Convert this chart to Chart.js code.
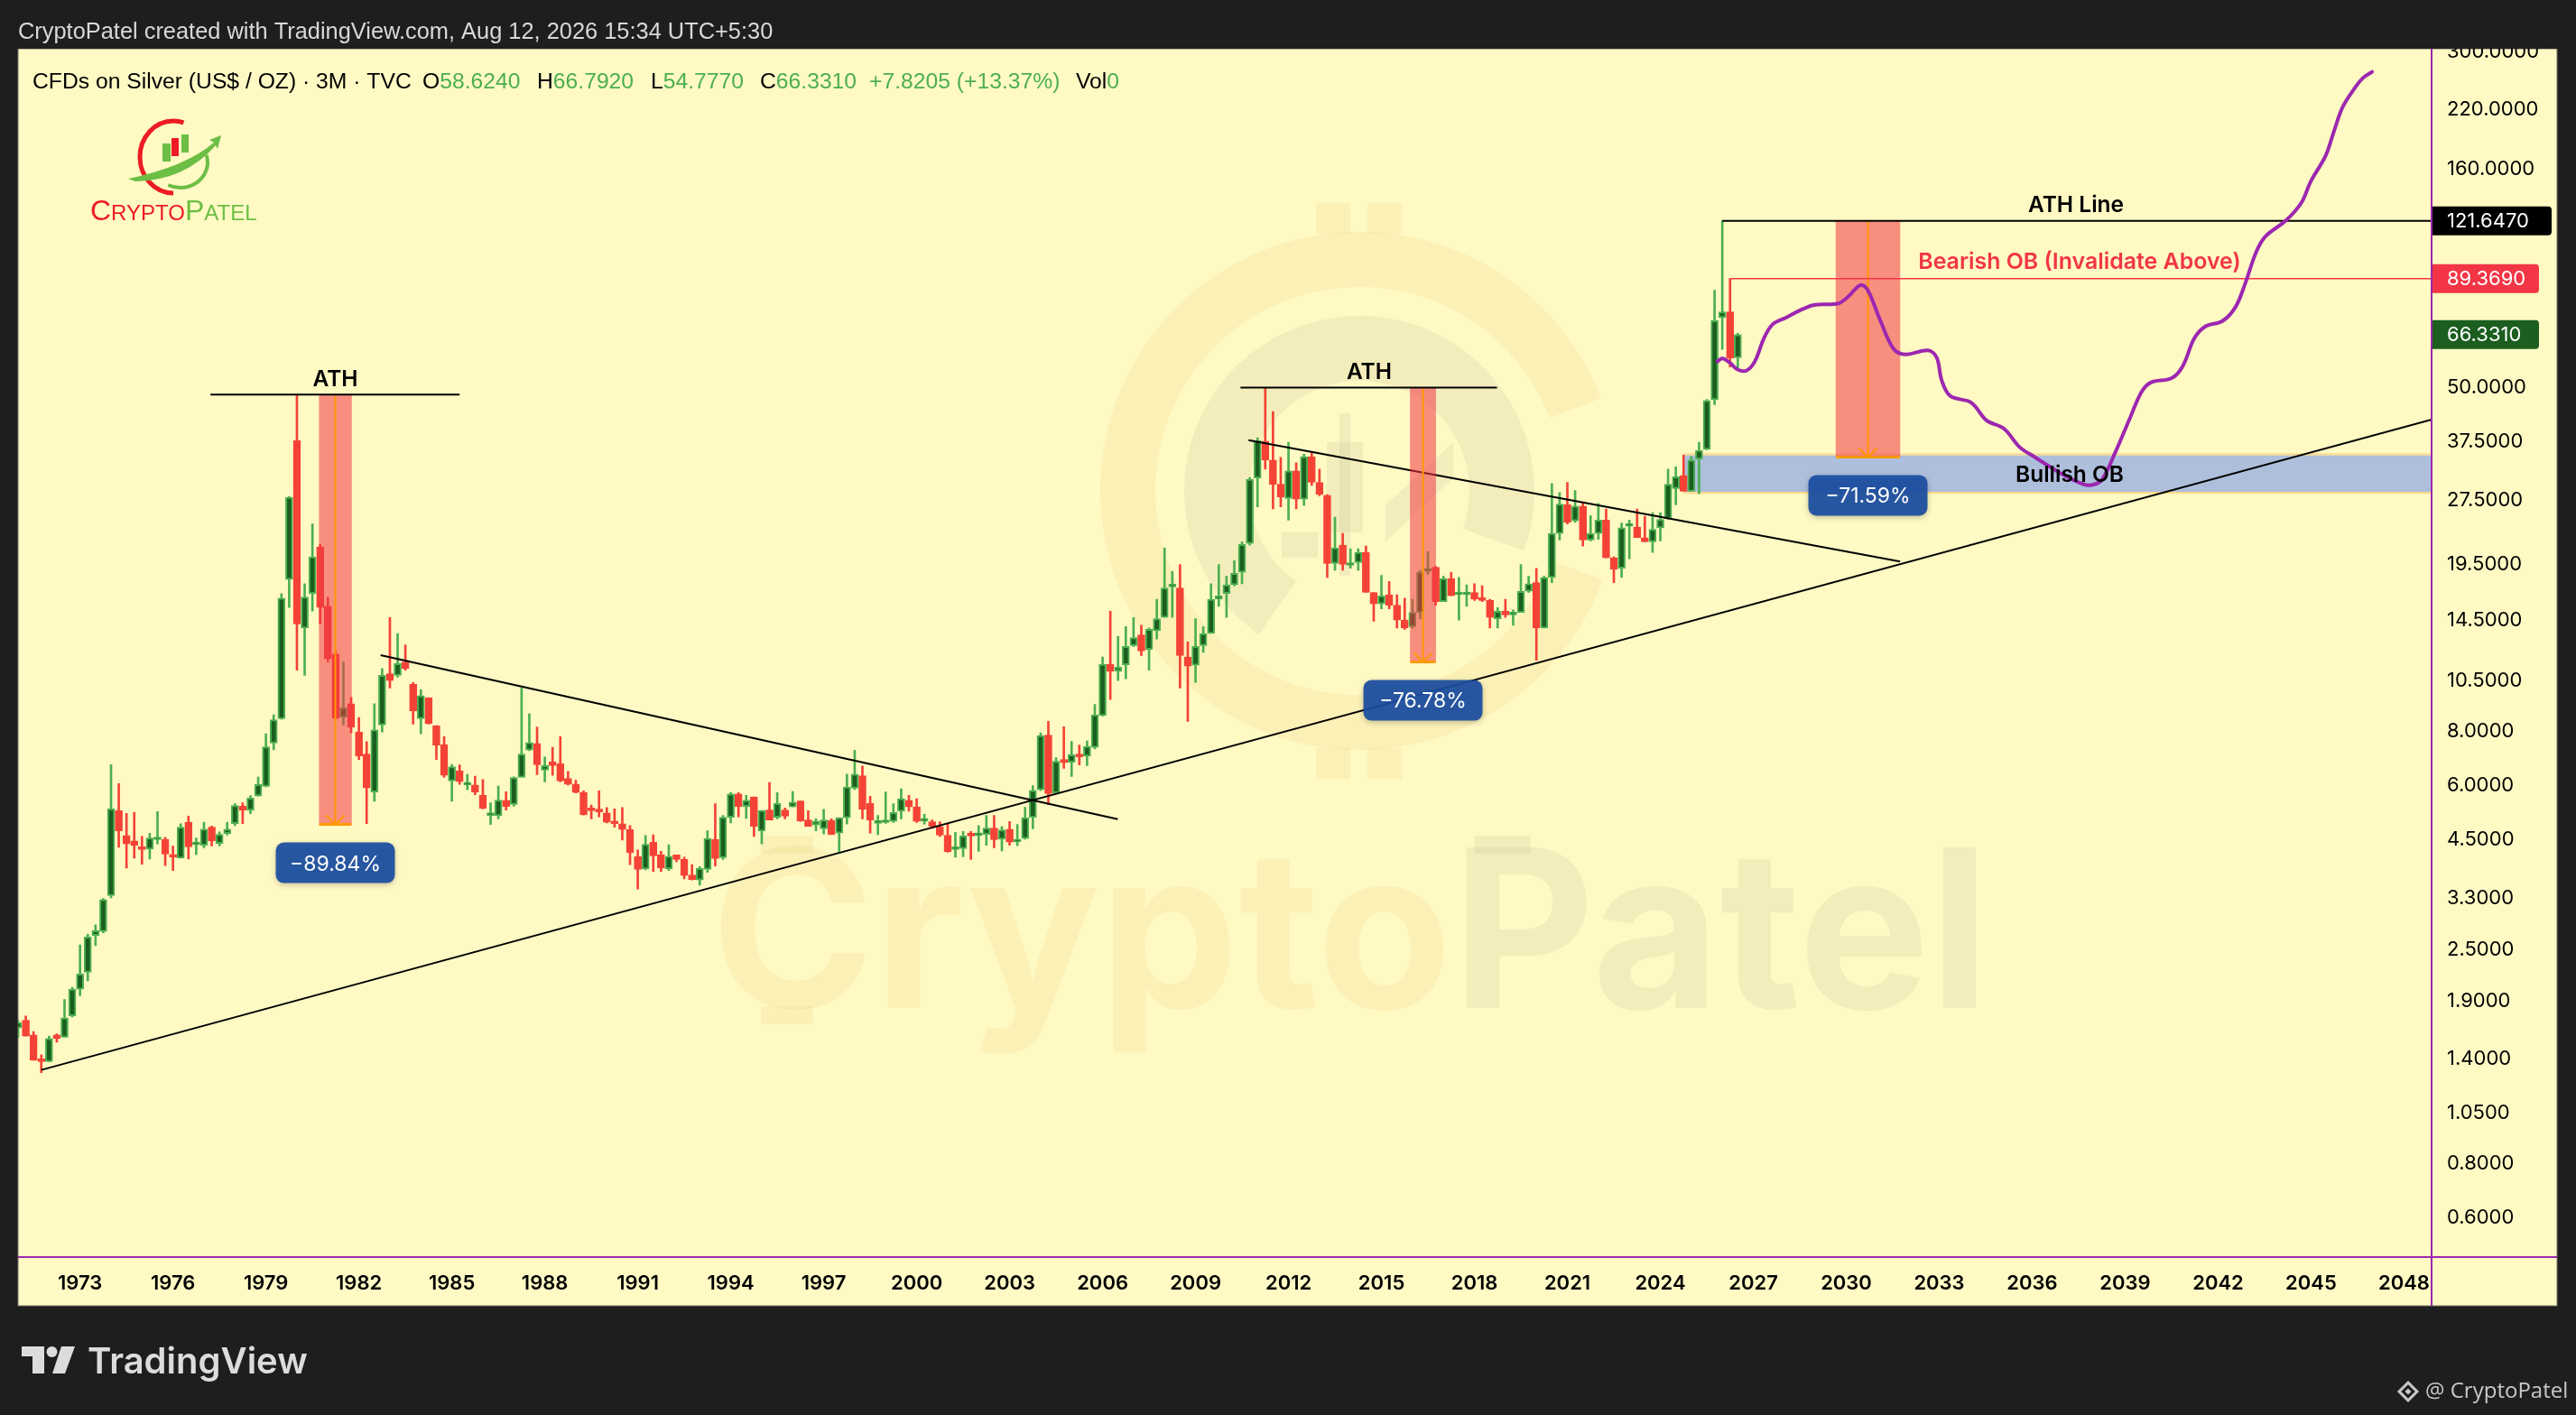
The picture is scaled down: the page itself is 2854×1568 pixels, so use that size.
<!DOCTYPE html>
<html>
<head>
<meta charset="utf-8">
<title>CFDs on Silver 3M</title>
<script src="https://cdn.jsdelivr.net/npm/chart.js@4/dist/chart.umd.min.js"></script>
<style>
  html, body { margin: 0; padding: 0; background: #1e1e1e; }
  canvas { display: block; }
</style>
</head>
<body>
<canvas id="silverChart" width="2854" height="1568"></canvas>
<script>
// quarterly candles, first one is Q1 1971
const firstYear = 1971;

const opens = [
  1.65,1.72,1.59,1.39,1.38,1.59,1.57,1.76,2.03,2.22,
  2.70,2.76,3.34,5.25,4.60,4.47,4.28,4.28,4.50,4.51,
  4.16,4.08,4.94,4.38,4.37,4.81,4.41,4.65,4.90,5.38,
  5.26,5.68,5.98,7.53,8.57,18.0,37.7,13.9,16.7,21.4,
  15.6,12.1,8.63,9.28,7.99,7.10,5.80,8.29,10.9,10.8,
  11.6,10.3,8.57,9.59,8.26,7.47,6.15,6.50,6.02,6.02,
  5.70,5.12,5.11,5.55,5.43,6.27,7.25,7.51,6.52,6.81,
  6.74,6.24,6.05,5.79,5.27,5.26,5.19,4.95,4.90,4.75,
  4.11,3.85,4.44,4.15,3.85,4.15,4.05,3.73,3.63,3.84,
  4.51,4.09,5.07,5.74,5.37,5.65,4.71,5.27,5.07,5.27,
  5.36,5.53,5.00,4.87,4.77,4.98,4.66,5.06,5.92,6.33,
  5.46,4.91,4.93,4.96,5.24,5.55,5.36,4.97,4.95,4.83,
  4.61,4.27,4.29,4.61,4.60,4.63,4.79,4.51,4.76,4.45,
  4.53,5.07,5.87,7.86,5.77,6.90,6.80,7.08,7.02,7.36,
  8.72,11.46,11.05,11.42,12.65,13.4,12.4,13.7,14.7,17.3,
  17.2,11.9,11.4,12.65,13.5,16.2,16.7,17.5,18.7,21.8,
  30.9,37.6,34.0,29.9,27.7,32.1,27.6,34.6,30.2,28.2,
  19.6,21.6,19.4,19.7,20.8,16.8,15.8,16.6,15.7,14.5,
  14.0,15.1,18.8,19.2,16.0,18.1,16.6,16.6,16.8,16.3,
  16.1,14.6,15.2,14.9,15.1,16.9,17.7,13.9,18.2,23.0,
  26.8,24.6,26.6,22.2,23.0,24.7,20.2,19.1,23.9,23.8,
  22.5,22.0,23.7,24.9,29.2,31.3,28.8,34.2,36.0,46.9,
  72.6,74.9,58.624
];
const highs = [
  1.72,1.76,1.62,1.43,1.58,1.60,1.92,2.05,2.57,2.72,
  2.86,3.29,6.71,6.07,5.18,5.21,4.58,4.66,5.23,4.56,
  4.35,4.90,5.10,4.54,4.94,4.84,4.69,4.94,5.45,5.48,
  5.69,6.28,7.91,8.75,16.7,28.0,48.2,17.6,24.2,21.7,
  16.4,12.3,11.6,9.60,8.63,7.59,9.28,11.2,14.7,13.5,
  12.7,10.4,10.0,9.59,8.26,7.79,6.72,6.70,6.37,6.31,
  6.20,5.48,5.99,5.81,6.29,10.1,8.81,8.20,6.99,7.36,
  7.79,6.47,6.18,5.84,5.41,5.84,5.34,5.30,5.34,4.85,
  4.26,4.60,4.62,4.23,4.38,4.15,4.10,3.94,3.90,4.72,
  5.45,5.12,5.78,5.78,5.70,5.65,5.26,6.10,5.78,5.33,
  5.82,5.53,5.25,5.03,5.29,5.03,5.06,6.38,7.25,6.66,
  5.67,5.12,5.80,5.45,5.90,5.70,5.60,5.15,5.00,4.95,
  4.90,4.68,4.70,4.70,4.85,5.12,5.12,4.83,4.96,4.88,
  5.35,6.00,7.95,8.45,6.97,8.21,7.60,7.45,7.61,9.25,
  11.9,15.2,13.3,14.0,14.7,14.1,13.9,16.2,21.3,18.8,
  19.5,12.9,14.6,14.0,17.6,19.5,18.3,19.9,22.0,31.0,
  38.3,50.0,44.0,34.5,37.4,33.5,35.1,35.4,32.4,28.3,
  25.1,23.0,21.2,21.2,21.5,16.8,18.4,17.8,16.6,16.3,
  16.2,18.9,20.9,19.3,18.3,18.7,18.2,17.5,17.6,17.4,
  16.2,15.5,16.2,15.3,19.5,18.3,19.1,18.3,30.0,28.6,
  30.2,28.9,27.2,25.3,27.0,26.2,20.3,24.3,24.7,26.2,
  25.2,25.7,25.7,32.4,32.8,34.9,34.6,37.4,47.0,84.0,
  121.647,89.369,66.792
];
const lows = [
  1.57,1.58,1.39,1.30,1.38,1.53,1.57,1.75,1.96,2.12,
  2.56,2.74,3.30,4.32,3.87,4.08,3.95,4.06,4.40,3.92,
  3.82,4.08,4.06,4.16,4.31,4.35,4.35,4.61,4.85,4.90,
  5.17,5.67,5.96,7.26,8.55,15.5,11.1,10.8,15.2,14.2,
  11.6,8.55,8.29,7.95,6.90,4.90,5.52,7.99,10.1,10.7,
  11.1,8.33,7.91,8.33,6.90,6.27,5.52,6.04,5.87,5.72,
  5.30,4.88,5.03,5.27,5.38,6.27,7.23,6.36,6.12,6.34,
  6.12,6.02,5.77,5.13,5.03,5.08,4.92,4.81,4.49,3.94,
  3.46,3.83,3.80,3.80,3.82,4.00,3.65,3.63,3.53,3.78,
  3.91,4.05,4.92,5.08,5.04,4.58,4.40,5.00,5.03,5.03,
  5.36,4.96,4.83,4.72,4.64,4.62,4.19,4.89,5.88,5.03,
  4.66,4.62,4.91,4.93,5.03,5.24,4.93,4.89,4.78,4.58,
  4.21,4.10,4.11,4.05,4.23,4.37,4.31,4.24,4.37,4.36,
  4.51,4.77,5.84,5.42,5.73,6.58,6.30,6.70,6.68,7.30,
  8.70,9.50,10.5,10.6,12.6,12.0,11.1,13.1,14.7,14.7,
  10.1,8.45,10.4,12.2,13.5,15.6,14.7,17.4,17.6,21.6,
  26.5,32.4,26.2,26.5,24.7,26.2,26.7,29.7,28.1,18.2,
  18.9,18.9,19.1,18.9,16.8,14.4,15.4,15.4,13.9,13.8,
  13.9,14.6,18.5,15.7,16.0,16.5,14.5,15.6,16.1,16.0,
  13.9,13.9,14.7,14.1,15.1,16.8,11.7,13.9,17.7,22.2,
  24.2,24.4,21.5,22.1,22.3,20.2,17.7,18.2,20.1,22.5,
  22.0,20.8,22.1,24.8,26.8,28.8,28.8,28.4,35.9,45.7,
  61.3,55.8,54.777
];
const closes = [
  1.70,1.58,1.39,1.38,1.56,1.56,1.74,2.03,2.20,2.68,
  2.77,3.27,5.30,4.72,4.40,4.37,4.27,4.54,4.52,4.17,
  4.10,4.81,4.33,4.40,4.76,4.47,4.63,4.76,5.40,5.27,
  5.62,6.04,7.38,8.53,16.3,27.9,14.2,16.4,20.3,15.5,
  11.8,8.59,9.09,8.20,7.03,5.93,8.08,10.8,10.5,11.5,
  11.2,8.93,9.70,8.35,7.44,6.34,6.64,6.13,6.05,5.80,
  5.32,5.14,5.56,5.37,6.27,7.10,7.55,6.71,6.68,6.68,
  6.15,6.04,5.79,5.14,5.25,5.22,4.94,4.90,4.75,4.20,
  3.84,4.39,4.13,3.87,4.12,4.05,3.72,3.64,3.86,4.53,
  4.07,5.07,5.74,5.37,5.55,4.83,5.26,5.00,5.46,5.10,
  5.50,4.97,4.83,4.97,5.00,4.63,5.06,5.96,6.38,5.29,
  5.00,4.99,4.95,5.20,5.60,5.36,4.96,4.99,4.83,4.61,
  4.22,4.29,4.59,4.59,4.62,4.79,4.50,4.74,4.44,4.51,
  5.06,5.85,7.84,5.75,6.83,6.78,7.08,7.00,7.40,8.75,
  11.46,11.03,11.28,12.6,13.2,12.3,13.8,14.6,17.2,17.4,
  12.0,11.35,12.6,13.5,16.2,16.5,17.5,18.6,21.7,30.7,
  37.7,34.0,29.9,27.9,32.1,27.6,34.6,30.2,28.3,19.6,
  21.3,19.5,19.6,20.8,16.8,15.8,16.5,15.7,14.5,13.9,
  15.1,18.7,19.1,16.0,18.1,16.5,16.65,16.7,16.2,16.1,
  14.7,15.2,14.9,15.05,16.9,17.6,13.9,18.2,23.0,26.9,
  24.4,26.6,22.2,23.0,24.7,20.2,19.0,23.7,24.0,22.5,
  22.0,23.5,24.8,29.9,31.1,28.8,34.0,35.8,46.7,71.5,
  74.9,58.6,66.331
];

const yearTicks = [1973,1976,1979,1982,1985,1988,1991,1994,1997,2000,2003,2006,2009,2012,2015,2018,2021,2024,2027,2030,2033,2036,2039,2042,2045,2048];
const priceTicks = [300,220,160,50,37.5,27.5,19.5,14.5,10.5,8,6,4.5,3.3,2.5,1.9,1.4,1.05,0.8,0.6];

// drawings, x in years and y in price
const uptrendYears = [1971.75, 2048.89];
const uptrendPrices = [1.32, 42.2];
const downtrend1Years = [1982.7, 2006.49];
const downtrend1Prices = [12.03, 5.02];
const downtrend2Years = [2010.71, 2031.74];
const downtrend2Prices = [37.8, 19.8];

const athYears1 = [1977.21, 1985.25];
const athYears2 = [2010.45, 2018.73];
const athLineYears = [2026.0, 2048.89];
const bearishObYears = [2026.25, 2048.89];
const athPrices = [48.2, 50.0, 121.647];
const bearishObPrice = 89.369;
const lastClose = 66.331;

const dropStarts = [1980.72, 2015.93, 2029.67];
const dropEnds = [1981.76, 2016.75, 2031.73];
const dropTops = [48.2, 50.0, 121.647];
const dropBottoms = [4.88, 11.6, 34.56];
const dropLabels = ["\u221289.84%", "\u221276.78%", "\u221271.59%"];

const bullishObStart = 2024.75;
const bullishObTop = 34.9;
const bullishObBottom = 28.7;

const forecastYears = [
  2025.84,2026.0,2026.23,2026.51,2026.79,2027.06,2027.34,2027.62,2028.07,2028.51,
  2028.96,2029.74,2030.07,2030.46,2030.69,2031.08,2031.52,2031.91,2032.64,2032.92,
  2033.08,2033.36,2034.03,2034.53,2035.09,2035.6,2036.07,2036.92,2037.65,2037.95,
  2038.25,2038.68,2039.16,2039.53,2039.83,2040.5,2040.86,2041.23,2041.59,2042.14,
  2042.56,2042.86,2043.23,2043.53,2044.2,2044.69,2044.99,2045.47,2045.72,2046.02,
  2046.45,2046.69,2046.97
];
const forecastPrices = [
  57.5,58.4,57.2,55.0,54.8,57.7,65.0,70.0,72.7,75.5,
  77.7,78.3,81.3,86.4,84.2,72.1,61.6,59.7,61.0,58.7,
  52.0,47.8,46.2,42.0,40.2,36.4,34.6,31.7,29.9,29.8,
  30.6,35.4,42.6,48.9,51.4,52.6,56.1,65.0,69.3,71.3,
  76.8,86.5,103,112,122,134,150,172,194,223,
  249,261,269
];

const UP_FILL = '#1b5e20', UP_EDGE = '#4caf50', DOWN = '#f44336';
const PX_PER_YEAR = 34.33;

const candleYears = closes.map((c, i) => firstYear + i * 0.25);
const isUp = closes.map((c, i) => c >= opens[i]);

function line(years, prices, color, width, order) {
  return {
    type: 'line',
    data: years.map((x, i) => ({x: x, y: prices[i]})),
    borderColor: color,
    borderWidth: width,
    pointRadius: 0,
    order: order
  };
}

const datasets = [
  {
    type: 'bar', grouped: false, barThickness: 2, order: 20,
    data: candleYears.map((x, i) => ({x: x, y: [lows[i], highs[i]]})),
    backgroundColor: isUp.map(u => u ? UP_EDGE : DOWN)
  },
  {
    type: 'bar', grouped: false, barThickness: 8, order: 19, minBarLength: 3,
    data: candleYears.map((x, i) => ({x: x, y: [opens[i], closes[i]]})),
    backgroundColor: isUp.map(u => u ? UP_FILL : DOWN),
    borderColor: isUp.map(u => u ? UP_EDGE : DOWN),
    borderWidth: 2,
    borderSkipped: false
  },
  line(uptrendYears, uptrendPrices, '#000', 2, 18),
  line(downtrend1Years, downtrend1Prices, '#000', 2, 18),
  line(downtrend2Years, downtrend2Prices, '#000', 2, 18)
];

dropStarts.forEach((start, i) => {
  const mid = (start + dropEnds[i]) / 2;
  datasets.push({
    type: 'bar', grouped: false, order: 15,
    barThickness: (dropEnds[i] - start) * PX_PER_YEAR,
    data: [{x: mid, y: [dropBottoms[i], dropTops[i]]}],
    backgroundColor: 'rgba(242,54,69,0.55)',
    borderWidth: 0
  });
  datasets.push(line([mid, mid], [dropTops[i], dropBottoms[i]], '#ff9800', 2, 14));
  datasets.push(line([start, dropEnds[i]], [dropBottoms[i], dropBottoms[i]], '#ff9800', 3, 14));
});

datasets.push(line(athYears1, [athPrices[0], athPrices[0]], '#000', 2, 13));
datasets.push(line(athYears2, [athPrices[1], athPrices[1]], '#000', 2, 13));
datasets.push(line(athLineYears, [athPrices[2], athPrices[2]], '#000', 2, 13));
datasets.push(line(bearishObYears, [bearishObPrice, bearishObPrice], '#f23645', 1.5, 13));

const forecast = line(forecastYears, forecastPrices, '#9c27b0', 4, 5);
forecast.tension = 0.35;
forecast.borderCapStyle = 'round';
datasets.push(forecast);

function text(ctx, str, x, y, font, color, align) {
  ctx.font = font;
  ctx.fillStyle = color;
  ctx.textAlign = align || 'left';
  ctx.textBaseline = 'middle';
  ctx.fillText(str, x, y);
}

function ring(ctx, cx, cy, outer, inner, from, to) {
  ctx.beginPath();
  ctx.arc(cx, cy, outer, from, to);
  ctx.arc(cx, cy, inner, to, from, true);
  ctx.closePath();
  ctx.fill();
}

// faint coin logo and name behind the candles
function drawWatermark(ctx) {
  const deg = Math.PI / 180;
  const tan = 'rgba(226,186,90,0.13)';
  const grey = 'rgba(150,150,120,0.11)';
  ctx.save();
  ctx.fillStyle = tan;
  ring(ctx, 1506, 544, 287, 226, 20 * deg, 339 * deg);
  // coin ticks top and bottom
  ctx.fillRect(1458, 225, 38, 34);
  ctx.fillRect(1515, 225, 38, 34);
  ctx.fillRect(1458, 829, 38, 34);
  ctx.fillRect(1515, 829, 38, 34);

  ctx.fillStyle = grey;
  ring(ctx, 1506, 544, 194, 122, 125 * deg, 380 * deg);
  // candles and arrow stub in the middle
  ctx.fillRect(1484, 458, 12, 180);
  ctx.fillRect(1470, 490, 40, 100);
  ctx.fillRect(1420, 590, 40, 28);
  ctx.beginPath();
  ctx.moveTo(1535, 560);
  ctx.lineTo(1610, 490);
  ctx.lineTo(1610, 530);
  ctx.lineTo(1535, 600);
  ctx.closePath();
  ctx.fill();

  // name, baseline at the bottom of the capitals
  ctx.font = '700 244px Inter';
  ctx.textAlign = 'left';
  ctx.textBaseline = 'alphabetic';
  const first = ctx.measureText('Crypto').width;
  const second = ctx.measureText('Patel').width;
  const left = 1496 - (first + second) / 2;
  ctx.fillStyle = tan;
  ctx.fillText('Crypto', left, 1117);
  ctx.fillRect(left + 55, 926, 58, 20);
  ctx.fillRect(left + 55, 1115, 58, 20);
  ctx.fillStyle = grey;
  ctx.fillText('Patel', left + first, 1117);
  ctx.fillRect(left + first + 25, 926, 62, 20);
  ctx.restore();
}

function drawLogo(ctx) {
  ctx.save();
  // red ring
  ctx.strokeStyle = '#ed1c24';
  ctx.lineWidth = 5;
  ctx.beginPath();
  ctx.ellipse(192, 174, 37, 40, 0, Math.PI * 0.5, Math.PI * 1.6);
  ctx.stroke();
  // green swoosh
  ctx.strokeStyle = '#6cbe45';
  ctx.lineWidth = 4;
  ctx.beginPath();
  ctx.ellipse(200, 180, 30, 28, 0, -0.3, Math.PI * 0.65);
  ctx.stroke();
  ctx.fillStyle = '#6cbe45';
  ctx.beginPath();
  ctx.moveTo(142, 198);
  ctx.quadraticCurveTo(205, 185, 237, 158);
  ctx.lineTo(232, 155);
  ctx.lineTo(245, 150);
  ctx.lineTo(241, 165);
  ctx.lineTo(239, 161);
  ctx.quadraticCurveTo(205, 200, 150, 201);
  ctx.closePath();
  ctx.fill();
  // candles
  ctx.fillRect(180, 159, 9, 20);
  ctx.fillStyle = '#ed1c24';
  ctx.fillRect(190, 153, 8, 20);
  ctx.fillStyle = '#6cbe45';
  ctx.fillRect(201, 149, 8, 20);
  // name, big and small capitals run together
  ctx.textBaseline = 'alphabetic';
  ctx.textAlign = 'left';
  const big = '32px "Liberation Sans"', small = '24px "Liberation Sans"';
  const parts = [['C', big, '#ed1c24'], ['RYPTO', small, '#ed1c24'], ['P', big, '#6cbe45'], ['ATEL', small, '#6cbe45']];
  let nx = 100;
  parts.forEach(p => {
    ctx.font = p[1];
    ctx.fillStyle = p[2];
    ctx.fillText(p[0], nx, 244);
    nx += ctx.measureText(p[0]).width;
  });
  ctx.restore();
}

function drawTradingView(ctx) {
  ctx.save();
  ctx.fillStyle = '#dcdcdc';
  ctx.fillRect(24, 1492, 25, 11);
  ctx.fillRect(36, 1492, 13, 30);
  ctx.beginPath();
  ctx.arc(57.5, 1498, 6, 0, Math.PI * 2);
  ctx.fill();
  ctx.beginPath();
  ctx.moveTo(68, 1492);
  ctx.lineTo(83, 1492);
  ctx.lineTo(72, 1522);
  ctx.lineTo(58, 1522);
  ctx.closePath();
  ctx.fill();
  ctx.textBaseline = 'alphabetic';
  ctx.textAlign = 'left';
  ctx.font = '600 40px Inter';
  ctx.fillText('TradingView', 97, 1522);
  // binance mark and handle
  ctx.translate(2668, 1542);
  ctx.rotate(Math.PI / 4);
  ctx.strokeStyle = '#c8c8c8';
  ctx.lineWidth = 3;
  ctx.strokeRect(-7, -7, 14, 14);
  ctx.fillStyle = '#c8c8c8';
  ctx.fillRect(-2.5, -2.5, 5, 5);
  ctx.restore();
  text(ctx, '@ CryptoPatel', 2687, 1542, '24px "Open Sans"', '#c8c8c8');
}

const drawingsPlugin = {
  id: 'drawings',
  beforeDraw(chart) {
    const ctx = chart.ctx;
    ctx.fillStyle = '#1e1e1e';
    ctx.fillRect(0, 0, 2854, 1568);
    ctx.fillStyle = '#fff9c4';
    ctx.fillRect(20, 54, 2813, 1393);
    ctx.strokeStyle = '#77776a';
    ctx.lineWidth = 1;
    ctx.strokeRect(20, 54, 2813, 1393);
  },
  beforeDatasetsDraw(chart) {
    const ctx = chart.ctx;
    const x = chart.scales.x, y = chart.scales.y;
    drawWatermark(ctx);
    // bullish order block
    const left = x.getPixelForValue(bullishObStart);
    const right = chart.chartArea.right;
    const top = y.getPixelForValue(bullishObTop);
    const bottom = y.getPixelForValue(bullishObBottom);
    ctx.fillStyle = '#aebfdc';
    ctx.fillRect(left, top, right - left, bottom - top);
    ctx.fillStyle = '#ffd98a';
    ctx.fillRect(left, top - 2, right - left, 2);
    ctx.fillRect(left, bottom, right - left, 2);
  },
  afterDraw(chart) {
    const ctx = chart.ctx;
    const x = chart.scales.x, y = chart.scales.y;
    const area = chart.chartArea;

    // axis frame lines
    ctx.fillStyle = '#9c27b0';
    ctx.fillRect(area.right - 1, 54, 2, 1393);
    ctx.fillRect(20, area.bottom - 1, 2813, 2);

    // arrow heads and percent labels
    dropStarts.forEach((start, i) => {
      const cx = x.getPixelForValue((start + dropEnds[i]) / 2);
      const by = y.getPixelForValue(dropBottoms[i]);
      ctx.strokeStyle = '#ff9800';
      ctx.lineWidth = 2;
      ctx.beginPath();
      ctx.moveTo(cx - 10, by - 10);
      ctx.lineTo(cx, by);
      ctx.lineTo(cx + 10, by - 10);
      ctx.stroke();

      ctx.save();
      ctx.shadowColor = 'rgba(0,0,0,0.25)';
      ctx.shadowBlur = 6;
      ctx.shadowOffsetY = 2;
      ctx.fillStyle = 'rgba(27,78,160,0.93)';
      ctx.beginPath();
      ctx.roundRect(cx - 66, by + 20, 132, 45, 9);
      ctx.fill();
      ctx.restore();
      text(ctx, dropLabels[i], cx, by + 44, '23px Inter', '#fff', 'center');
    });

    // text on the drawings
    const bold = '600 24.5px Inter';
    text(ctx, 'ATH', x.getPixelForValue((dropStarts[0] + dropEnds[0]) / 2), y.getPixelForValue(athPrices[0]) - 17, bold, '#000', 'center');
    text(ctx, 'ATH', 1517, y.getPixelForValue(athPrices[1]) - 17, bold, '#000', 'center');
    text(ctx, 'ATH Line', 2300, y.getPixelForValue(athPrices[2]) - 17, bold, '#000', 'center');
    text(ctx, 'Bearish OB (Invalidate Above)', 2304, y.getPixelForValue(bearishObPrice) - 18, '600 24.9px Inter', '#f23645', 'center');
    text(ctx, 'Bullish OB', 2293, 527, bold, '#000', 'center');

    // price tags
    const tags = [
      [athPrices[2], '#000', 132],
      [bearishObPrice, '#f23645', 118],
      [lastClose, '#1b5e20', 118]
    ];
    tags.forEach(t => {
      const py = y.getPixelForValue(t[0]);
      ctx.fillStyle = t[1];
      ctx.beginPath();
      ctx.roundRect(area.right + 1, py - 16, t[2], 32, [0, 4, 4, 0]);
      ctx.fill();
      text(ctx, t[0].toFixed(4), area.right + 17, py + 1, '22px Inter', '#fff');
    });

    // cover what sticks out above the panel, then the header
    ctx.fillStyle = '#1e1e1e';
    ctx.fillRect(0, 0, 2854, 54);
    text(ctx, 'CryptoPatel created with TradingView.com, Aug 12, 2026 15:34 UTC+5:30', 20, 36, '25.4px "Liberation Sans"', '#d8d8d8');

    const legendFont = '24.7px "Liberation Sans"';
    const green = '#4caf50';
    text(ctx, 'CFDs on Silver (US$ / OZ) \u00b7 3M \u00b7 TVC', 36, 91, legendFont, '#000');
    [['O', '58.6240', 468], ['H', '66.7920', 595], ['L', '54.7770', 721], ['C', '66.3310', 842]].forEach(p => {
      text(ctx, p[0], p[2], 91, legendFont, '#000');
      text(ctx, p[1], p[2] + ctx.measureText(p[0]).width, 91, legendFont, green);
    });
    text(ctx, '+7.8205 (+13.37%)', 963, 91, legendFont, green);
    text(ctx, 'Vol', 1192, 91, legendFont, '#000');
    text(ctx, '0', 1192 + ctx.measureText('Vol').width, 91, legendFont, green);

    drawLogo(ctx);
    drawTradingView(ctx);
  }
};

new Chart(document.getElementById('silverChart').getContext('2d'), {
  data: {datasets: datasets},
  plugins: [drawingsPlugin],
  options: {
    responsive: false,
    animation: false,
    layout: {padding: {left: 20, top: 54.5, right: 21, bottom: 121}},
    plugins: {legend: {display: false}, tooltip: {enabled: false}},
    scales: {
      x: {
        type: 'linear',
        offset: false,
        min: firstYear,
        max: 2048.89,
        afterBuildTicks: s => { s.ticks = yearTicks.map(v => ({value: v})); },
        afterFit: s => { s.height = 54; },
        grid: {display: false, drawTicks: false},
        border: {display: false},
        ticks: {
          autoSkip: false,
          maxRotation: 0,
          padding: 16,
          color: '#000',
          font: {family: 'Inter', size: 22, weight: '600'},
          callback: v => String(v)
        }
      },
      y: {
        type: 'logarithmic',
        position: 'right',
        min: 0.487,
        max: 303.5,
        afterBuildTicks: s => { s.ticks = priceTicks.map(v => ({value: v})); },
        afterFit: s => { s.width = 139; },
        grid: {display: false, drawTicks: false},
        border: {display: false},
        ticks: {
          autoSkip: false,
          padding: 17,
          color: '#000',
          font: {family: 'Inter', size: 22},
          callback: v => v.toFixed(4)
        }
      }
    }
  }
});
</script>
</body>
</html>
